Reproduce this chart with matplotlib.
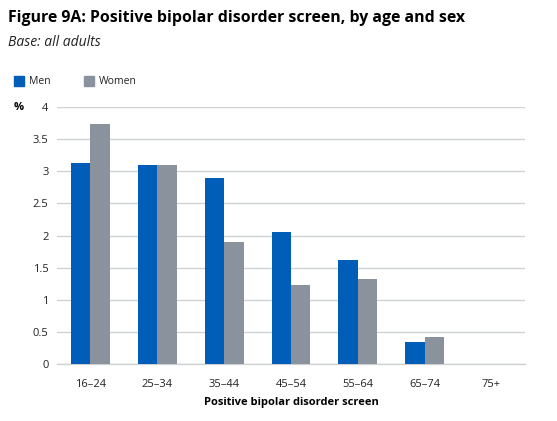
import numpy as np
import matplotlib
matplotlib.use('Agg')
import matplotlib.pyplot as plt
from matplotlib.patches import Rectangle

plt.rcParams['font.family'] = ['Open Sans', 'DejaVu Sans']

age_groups = ['16–24', '25–34', '35–44', '45–54', '55–64', '65–74', '75+']
men = [3.13, 3.10, 2.89, 2.06, 1.62, 0.35, 0.0]
women = [3.74, 3.10, 1.90, 1.23, 1.32, 0.42, 0.0]
yticks = [0, 0.5, 1, 1.5, 2, 2.5, 3, 3.5, 4]

BLUE = '#005EB8'
GREY = '#8A939D'
GRID = '#D0D3D6'

W, H = 557, 421
fig = plt.figure(figsize=(W / 100, H / 100), dpi=100)
# axes box in pixel coords: left 57, right 525, top (y=4) 107, bottom (y=0) 364
ax = fig.add_axes([57 / W, 1 - 364 / H, (525 - 57) / W, (364 - 107) / H])

x = np.arange(len(age_groups))
bw = 0.29
ax.bar(x - bw / 2, men, width=bw, color=BLUE, zorder=3)
ax.bar(x + bw / 2, women, width=bw, color=GREY, zorder=3)

ax.set_xlim(-0.5, len(age_groups) - 0.5)
ax.set_ylim(0, 4)
ax.set_yticks(yticks)
ax.set_yticklabels(['%g' % t for t in yticks])
ax.yaxis.grid(True, color=GRID, linewidth=1)
ax.set_axisbelow(True)
for s in ['top', 'right', 'left']:
    ax.spines[s].set_visible(False)
ax.spines['bottom'].set_color(GRID)
ax.spines['bottom'].set_linewidth(1)
ax.tick_params(axis='y', length=0, pad=6, labelsize=8, labelcolor='#222222')
ax.tick_params(axis='x', length=0, pad=11, labelsize=8, labelcolor='#222222')
ax.set_xticks(x)
ax.set_xticklabels(age_groups)
ax.set_xlabel('Positive bipolar disorder screen', fontsize=8, fontweight='bold',
              labelpad=5)

fig.text(8 / W, 1 - 18 / H, 'Figure 9A: Positive bipolar disorder screen, by age and sex',
         fontsize=11.4, fontweight='bold', va='center', ha='left')
fig.text(8 / W, 1 - 42 / H, 'Base: all adults', fontsize=10, style='italic',
         va='center', ha='left', color='#222222')
fig.text(14 / W, 1 - 107 / H, '%', fontsize=8, fontweight='bold', va='center', ha='left')

# legend
for px, lab, col in [(14, 'Men', BLUE), (84, 'Women', GREY)]:
    fig.patches.append(Rectangle((px / W, 1 - 86 / H), 10 / W, 10 / H,
                                 transform=fig.transFigure, color=col))
    fig.text((px + 15) / W, 1 - 81 / H, lab, fontsize=7.5, va='center', ha='left',
             color='#222222')

fig.savefig('out.png', dpi=100)
